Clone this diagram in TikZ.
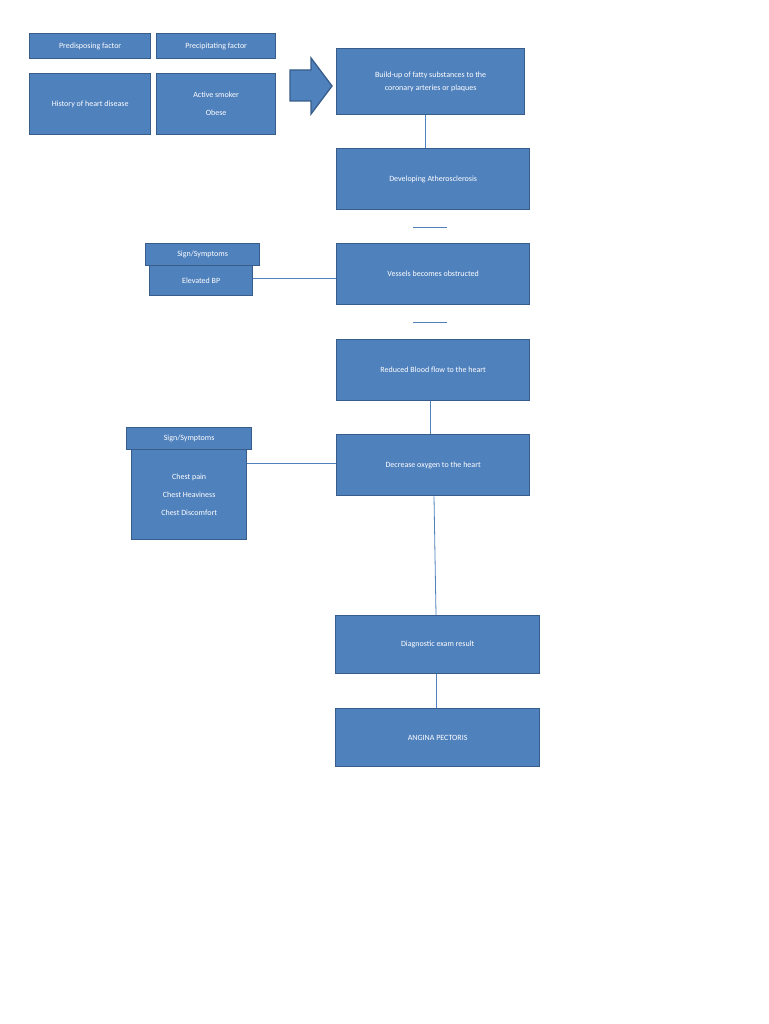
\documentclass[tikz,border=0pt]{standalone}
\usepackage{fontspec}
\setmainfont{Carlito}
\definecolor{bfill}{HTML}{4F81BD}
\definecolor{bdraw}{HTML}{385D8A}
\begin{document}
\begin{tikzpicture}[x=1pt,y=-1pt,
  box/.style={draw=bdraw,fill=bfill,line width=1.3pt,text=white,font=\fontsize{8}{10}\selectfont,inner sep=0pt,align=center,anchor=north west},
  conn/.style={draw=bfill,line width=0.8pt}]
\useasboundingbox[fill=white] (0,0) rectangle (768,1024);
\newcommand{\bx}[6]{\node[box,minimum width={#4-#2},minimum height={#5-#3}] (#1) at (#2,#3) {#6};}
\bx{pred}{29}{33}{150}{58}{Predisposing factor}
\bx{prec}{156}{33}{275}{58}{Precipitating factor}
\bx{hist}{29}{73}{150}{134}{History of heart disease}
\bx{smk}{156}{73}{275}{134}{Active smoker\\[8pt]Obese}
\draw[draw=bdraw,fill=bfill,line width=1.3pt] (290,70) -- (311,70) -- (311,58) -- (332,86) -- (311,114) -- (311,101) -- (290,101) -- cycle;
\bx{build}{336}{48}{524}{114}{Build-up of fatty substances to the\\[3pt]coronary arteries or plaques}
\bx{dev}{336}{148}{529}{209}{Developing Atherosclerosis}
\bx{s1}{145}{243}{259}{265}{Sign/Symptoms}
\bx{ebp}{149}{265}{252}{295}{Elevated BP}
\bx{ves}{336}{243}{529}{304}{Vessels becomes obstructed}
\bx{red}{336}{339}{529}{400}{Reduced Blood flow to the heart}
\bx{dec}{336}{434}{529}{495}{Decrease oxygen to the heart}
\bx{s2}{126}{427}{251}{449}{Sign/Symptoms}
\bx{cp}{131}{449}{246}{539}{Chest pain\\[8pt]Chest Heaviness\\[8pt]Chest Discomfort}
\bx{diag}{335}{615}{539}{673}{Diagnostic exam result}
\bx{ang}{335}{708}{539}{766}{ANGINA PECTORIS}
\coordinate (h1a) at (413,227); \coordinate (h1b) at (447,227);
\coordinate (h2a) at (413,322); \coordinate (h2b) at (447,322);
\draw[conn] (h1a) -- (h1b);
\draw[conn] (h2a) -- (h2b);
\draw[conn] (build.south -| 425,0) -- (dev.north -| 425,0);
\draw[conn] (ebp.east |- 0,278) -- (ves.west |- 0,278);
\draw[conn] (red.south -| 430,0) -- (dec.north -| 430,0);
\draw[conn] (cp.east |- 0,463) -- (dec.west |- 0,463);
\draw[conn] (dec.south -| 434,0) -- (diag.north -| 436,0);
\draw[conn] (diag.south -| 436,0) -- (ang.north -| 436,0);
\end{tikzpicture}
\end{document}
